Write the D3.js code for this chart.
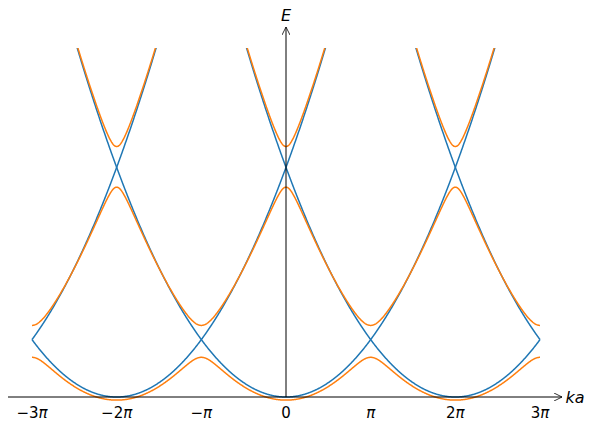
<!DOCTYPE html><html><head><meta charset="utf-8"><script src="https://cdn.jsdelivr.net/npm/d3@7"></script>
<style>body{margin:0;background:#fff}svg{font-family:"DejaVu Sans",sans-serif}</style></head><body>
<script>
const PI=Math.PI;
const tickValues=[-3,-2,-1,0,1,2,3];
const tickLabels=["\u22123","\u22122","\u2212","0","","2","3"];
const tickHasPi=[true,true,true,false,true,true,true];
const freeCenters=[-4,-2,0,2,4];   // parabola centres in units of pi
const gapU=[3.0,3.3];               // Fourier components V_G (G=2pi, 4pi) read from gaps
const bandsShown=[0,1,2];
const W=592,H=428;
const x=d3.scaleLinear().domain([-3*PI,3*PI]).range([32,540]);
const y=d3.scaleLinear().domain([0,60]).range([397,48]);
const svg=d3.select("body").append("svg").attr("width",W).attr("height",H);
svg.append("defs").append("clipPath").attr("id","c").append("rect").attr("x",0).attr("y",48).attr("width",W).attr("height",360);
const ks=d3.range(0,1201).map(i=>-3*PI+6*PI*i/1200);
const line=d3.line().x(d=>x(d[0])).y(d=>y(d[1]));
const g=svg.append("g").attr("clip-path","url(#c)");
freeCenters.forEach(c=>{
  g.append("path").attr("d",line(ks.map(k=>[k,(k-c*PI)**2]))).attr("fill","none").attr("stroke","#1f77b4").attr("stroke-width",1.5);
});
function eig(A){const n=A.length;A=A.map(r=>r.slice());
 for(let s=0;s<60;s++){let off=0;
  for(let p=0;p<n;p++)for(let q=p+1;q<n;q++){off+=A[p][q]**2;
   if(Math.abs(A[p][q])<1e-12)continue;
   const th=(A[q][q]-A[p][p])/(2*A[p][q]);const t=Math.sign(th||1)/(Math.abs(th)+Math.sqrt(th*th+1));
   const c=1/Math.sqrt(t*t+1),sn=t*c;
   for(let r=0;r<n;r++){const arp=A[r][p],arq=A[r][q];A[r][p]=c*arp-sn*arq;A[r][q]=sn*arp+c*arq;}
   for(let r=0;r<n;r++){const apr=A[p][r],aqr=A[q][r];A[p][r]=c*apr-sn*aqr;A[q][r]=sn*apr+c*aqr;}}
  if(off<1e-20)break;}
 return A.map((r,i)=>r[i]).sort((a,b)=>a-b);}
const ms=d3.range(-3,4);
const bandVals=ks.map(k=>{let q=((k+PI)%(2*PI)+2*PI)%(2*PI)-PI;
 const A=ms.map(m=>ms.map(m2=>{if(m===m2)return (q-2*PI*m)**2;const d=Math.abs(m-m2);return d<=2?gapU[d-1]:0;}));
 return eig(A);});
bandsShown.forEach(b=>{
  g.append("path").attr("d",line(ks.map((k,i)=>[k,bandVals[i][b]]))).attr("fill","none").attr("stroke","#ff7f0e").attr("stroke-width",1.5);
});
svg.append("defs").append("marker").attr("id","ar").attr("viewBox","0 0 10 10").attr("refX",10).attr("refY",5).attr("markerWidth",8).attr("markerHeight",8).attr("orient","auto-start-reverse").attr("markerUnits","userSpaceOnUse")
 .append("path").attr("d","M0,0L10,5L0,10").attr("fill","none").attr("stroke","#000").attr("stroke-width",1);
svg.append("line").attr("x1",8).attr("x2",562).attr("y1",397).attr("y2",397).attr("stroke","#000").attr("marker-end","url(#ar)");
svg.append("line").attr("x1",x(0)).attr("x2",x(0)).attr("y1",397).attr("y2",27).attr("stroke","#000").attr("marker-end","url(#ar)");
tickValues.forEach((v,i)=>{const t=svg.append("text").attr("x",x(v*PI)).attr("y",418).attr("text-anchor","middle").attr("font-size",15);
 t.append("tspan").text(tickLabels[i]); if(tickHasPi[i]) t.append("tspan").attr("font-style","italic").text("\u03c0");});
svg.append("text").attr("x",575).attr("y",403).attr("text-anchor","middle").attr("font-size",16).attr("font-style","italic").text("ka");
svg.append("text").attr("x",286).attr("y",21).attr("text-anchor","middle").attr("font-size",16).attr("font-style","italic").text("E");
</script></body></html>
